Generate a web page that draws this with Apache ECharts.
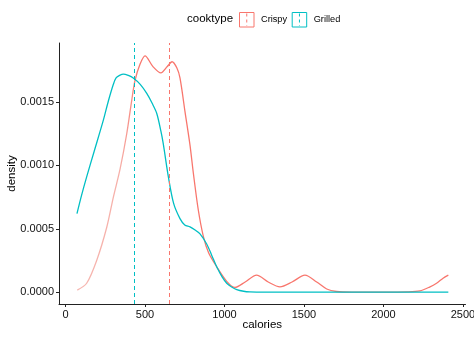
<!DOCTYPE html>
<html>
<head>
<meta charset="utf-8">
<script src="https://cdn.jsdelivr.net/npm/echarts@6/dist/echarts.min.js"></script>
<style>
  html, body { margin: 0; padding: 0; background: #fff; }
  #chart { width: 474px; height: 338px; }
</style>
</head>
<body>
<div id="chart"></div>
<script>
// Kernel density of calories per cooking type, with dashed lines at each group mean.
const groups = ['Crispy', 'Grilled'];
const groupColors = ['#F8766D', '#00BFC4'];
const legendTitle = 'cooktype';
const meanCalories = [651, 430];

const crispyCalories = [74, 133, 196, 259, 301, 343, 385, 416, 437, 469, 500, 550, 600, 640, 670, 700, 720,
  752, 783, 804, 835, 867, 900, 951, 1014, 1066, 1130, 1202, 1275, 1349, 1425, 1506, 1580, 1643, 1705,
  1800, 2000, 2150, 2229, 2290, 2334, 2375, 2408];
const crispyDensity = [0.000016, 0.00007, 0.00025, 0.00051, 0.00075, 0.00097, 0.00125, 0.00151, 0.00167,
  0.00180, 0.001865, 0.00178, 0.00173, 0.00178, 0.001818, 0.00177, 0.00169, 0.00142, 0.00116, 0.00094,
  0.00065, 0.00044, 0.00031, 0.0002, 0.000085, 0.000037, 0.00008, 0.000134, 0.00008, 0.000042, 0.00008,
  0.000134, 0.00008, 0.000025, 0.000005, 0, 0, 0.000002, 0.00001, 0.00004, 0.00007, 0.00011, 0.000134];

const grilledCalories = [72, 100, 133, 180, 238, 270, 301, 318, 340, 364, 395, 426, 470, 511, 545, 574, 600,
  615, 647, 680, 720, 750, 783, 815, 846, 888, 920, 951, 985, 1014, 1045, 1077, 1120, 1160, 1250, 1400,
  1800, 2200, 2408];
const grilledDensity = [0.00062, 0.00076, 0.00091, 0.00111, 0.001357, 0.00151, 0.00164, 0.00169, 0.00171,
  0.001721, 0.00171, 0.00169, 0.00164, 0.001568, 0.00149, 0.00141, 0.00127, 0.00117, 0.00091, 0.0007,
  0.00058, 0.00053, 0.000515, 0.00049, 0.00046, 0.00038, 0.00029, 0.0002, 0.00012, 0.00007, 0.00004,
  0.00002, 0.000007, 0.000002, 0, 0, 0, 0, 0];

const xTicks = [0, 500, 1000, 1500, 2000, 2500];
const yTicks = [0, 0.0005, 0.0010, 0.0015];
const xTitle = 'calories';
const yTitle = 'density';

const FONT = '"Liberation Sans", Arial, Helvetica, sans-serif';
const zip = (xs, ys) => xs.map((x, i) => [x, ys[i]]);
const seriesData = [zip(crispyCalories, crispyDensity), zip(grilledCalories, grilledDensity)];

const chart = echarts.init(document.getElementById('chart'), null, { renderer: 'canvas' });

const crispyStroke = new echarts.graphic.LinearGradient(0, 0, 1, 0, [
  { offset: 0, color: '#F6B7B1' },
  { offset: 0.12, color: '#F6B0A9' },
  { offset: 0.17, color: '#F8766D' },
  { offset: 1, color: '#F8766D' }
]);

const series = groups.map((name, i) => ({
  name,
  type: 'line',
  color: groupColors[i],
  data: seriesData[i],
  smooth: 0.3,
  showSymbol: false,
  symbol: 'none',
  z: 2 + i,
  lineStyle: { color: i === 0 ? crispyStroke : groupColors[i], width: 1.3 },
  emphasis: { disabled: true },
  markLine: {
    silent: true,
    symbol: ['none', 'none'],
    label: { show: false },
    z: 5,
    itemStyle: { color: groupColors[i] },
    lineStyle: { color: groupColors[i], type: [4, 3], width: 1, opacity: 1 },
    emphasis: { disabled: true },
    data: [{ xAxis: meanCalories[i], lineStyle: { color: groupColors[i] } }]
  }
}));

// Legend: title, outlined key boxes with a short dashed line, and group labels
const legendGraphics = [{
  type: 'text',
  left: 187, top: 13,
  style: { text: legendTitle, font: '11.5px ' + FONT, fill: '#000' }
}];
groups.forEach((name, i) => {
  const x0 = 239.5 + i * 52.7;
  legendGraphics.push({
    type: 'rect',
    shape: { x: x0, y: 12.5, width: 14.5, height: 14.5 },
    style: { fill: '#fff', stroke: groupColors[i], lineWidth: 1 }
  });
  legendGraphics.push({
    type: 'line',
    shape: { x1: x0 + 7.25, y1: 13.5, x2: x0 + 7.25, y2: 26 },
    style: { stroke: groupColors[i], lineWidth: 1, lineDash: [3, 3] }
  });
  legendGraphics.push({
    type: 'text',
    left: x0 + 21.5, top: 14.5,
    style: { text: name, font: '9.2px ' + FONT, fill: '#000' }
  });
});

chart.setOption({
  animation: false,
  backgroundColor: '#fff',
  textStyle: { fontFamily: FONT },
  grid: { left: 59, top: 43, width: 406.5, height: 261, containLabel: false, outerBoundsMode: 'none' },
  graphic: legendGraphics,
  xAxis: {
    type: 'value',
    min: -41, max: 2516,
    name: xTitle,
    nameLocation: 'middle',
    nameGap: 15,
    nameMoveOverlap: false,
    nameTextStyle: { fontSize: 11.5, color: '#000', fontFamily: FONT },
    axisLine: { show: true, onZero: false, lineStyle: { color: '#222', width: 1 } },
    axisTick: { show: true, length: 3, customValues: xTicks, lineStyle: { color: '#222' } },
    axisLabel: {
      customValues: xTicks, fontSize: 11, color: '#111', margin: 5, fontFamily: FONT,
      formatter: v => String(v)
    },
    splitLine: { show: false }
  },
  yAxis: {
    type: 'value',
    min: -0.0000936, max: 0.001966,
    name: yTitle,
    nameLocation: 'middle',
    nameRotate: 90,
    nameGap: 41,
    nameMoveOverlap: false,
    nameTextStyle: { fontSize: 11.5, color: '#000', fontFamily: FONT },
    axisLine: { show: true, onZero: false, lineStyle: { color: '#222', width: 1 } },
    axisTick: { show: true, length: 3, customValues: yTicks, lineStyle: { color: '#222' } },
    axisLabel: {
      customValues: yTicks, fontSize: 11, color: '#111', margin: 5, fontFamily: FONT,
      formatter: v => v.toFixed(4)
    },
    splitLine: { show: false }
  },
  series
});
</script>
</body>
</html>
